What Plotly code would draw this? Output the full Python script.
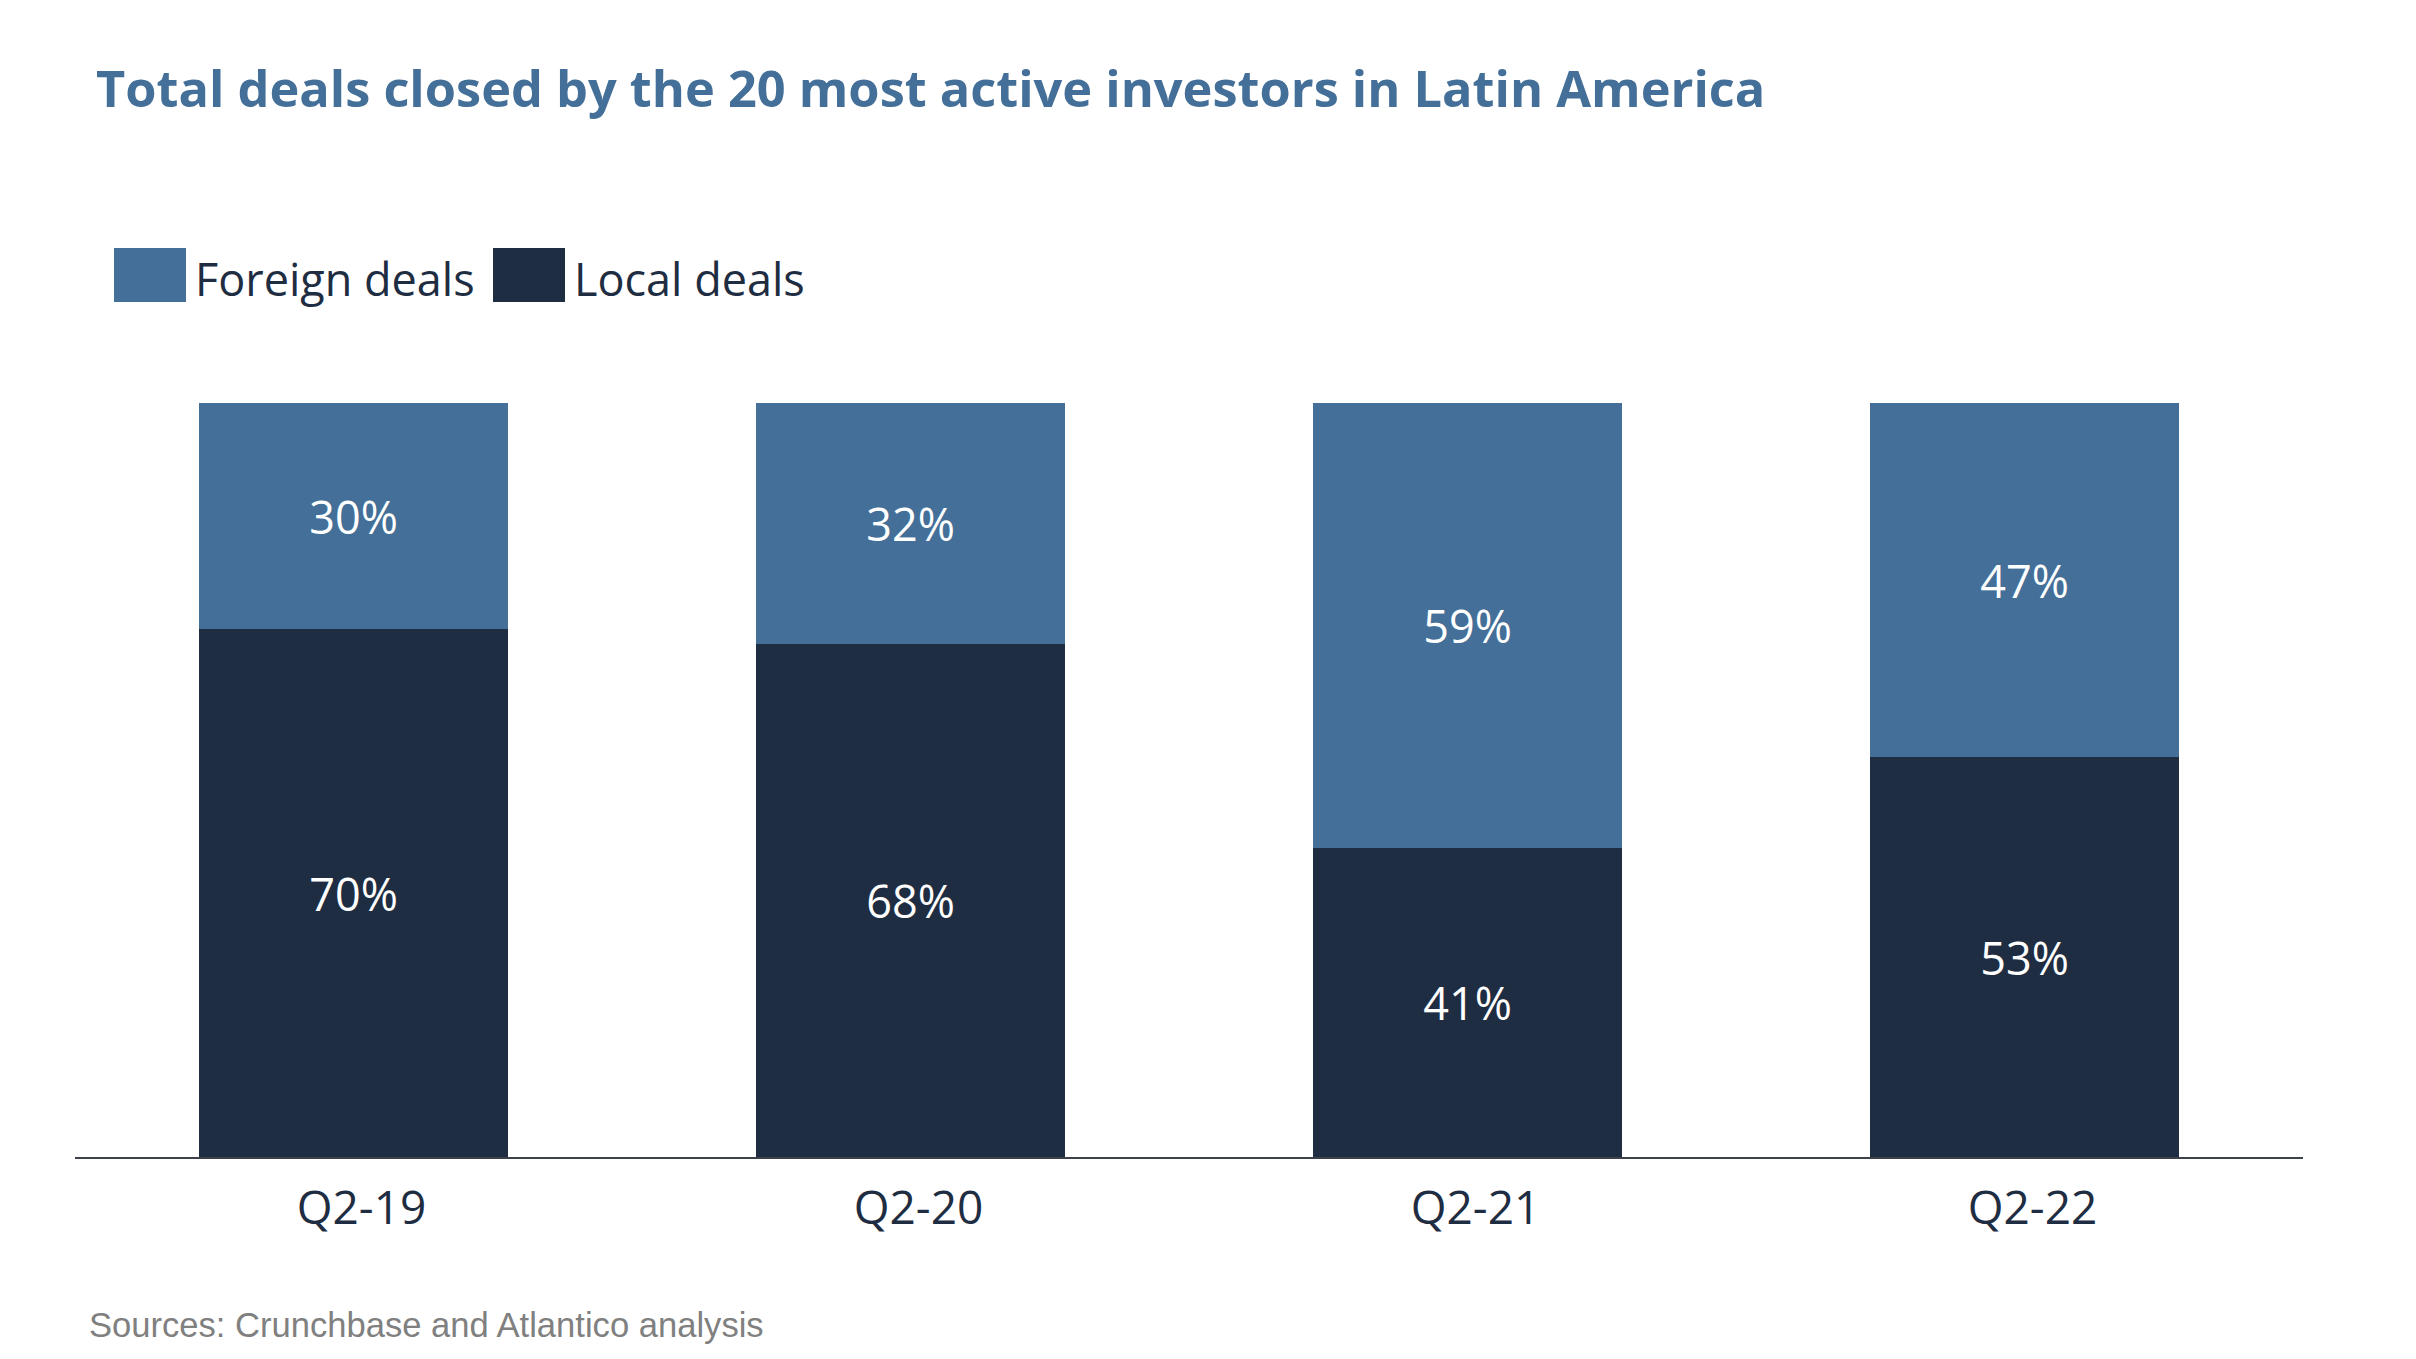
import plotly.graph_objects as go

categories = ["Q2-19", "Q2-20", "Q2-21", "Q2-22"]
local_deals = [70, 68, 41, 53]
foreign_deals = [30, 32, 59, 47]
series_names = ["Foreign deals", "Local deals"]

W, H = 2416, 1359
L, R, T, B = 75, 113, 403, 202
PW, PH = W - L - R, H - T - B

FOREIGN = "#436f98"
LOCAL = "#1f2d42"
TEXT_DARK = "#1f2d42"


def px(x):
    return (x - L) / PW


def py(y):
    return (H - B - y) / PH


fig = go.Figure()
fig.add_trace(go.Bar(
    x=categories, y=local_deals, name=series_names[1], marker_color=LOCAL,
    marker_line_width=0,
    text=[f"{v}%" for v in local_deals], textposition="inside",
    insidetextanchor="middle",
    textfont=dict(family="Open Sans", size=45, color="white"),
))
fig.add_trace(go.Bar(
    x=categories, y=foreign_deals, name=series_names[0], marker_color=FOREIGN,
    marker_line_width=0,
    text=[f"{v}%" for v in foreign_deals], textposition="inside",
    insidetextanchor="middle",
    textfont=dict(family="Open Sans", size=45, color="white"),
))

shapes = []
annotations = []
# Legend (manual, large swatches)
legend_items = [(series_names[0], FOREIGN, 114, 186, 193), (series_names[1], LOCAL, 493, 565, 572)]
for name, col, x0, x1, tx in legend_items:
    shapes.append(dict(type="rect", xref="paper", yref="paper",
                       x0=px(x0), x1=px(x1), y0=py(302), y1=py(248),
                       fillcolor=col, line_width=0))
    annotations.append(dict(text=name, xref="paper", yref="paper", x=px(tx), y=py(279),
                            xanchor="left", yanchor="middle", showarrow=False,
                            font=dict(family="Open Sans", size=45, color=TEXT_DARK)))

annotations.append(dict(text="Total deals closed by the 20 most active investors in Latin America",
                        xref="paper", yref="paper", x=px(94), y=py(87),
                        xanchor="left", yanchor="middle", showarrow=False,
                        font=dict(family="Open Sans", size=50.5, color="#436f98", weight="bold")))
annotations.append(dict(text="Sources: Crunchbase and Atlantico analysis",
                        xref="paper", yref="paper", x=px(87), y=py(1325),
                        xanchor="left", yanchor="middle", showarrow=False,
                        font=dict(family="Liberation Sans", size=34.6, color="#808080")))

fig.update_layout(
    width=W, height=H,
    margin=dict(l=L, r=R, t=T, b=B, autoexpand=False),
    barmode="stack", bargap=0.445,
    plot_bgcolor="white", paper_bgcolor="white",
    showlegend=False,
    shapes=shapes, annotations=annotations,
    uniformtext=dict(mode=False),
    xaxis=dict(range=[-0.5, 3.5], showline=True, linecolor="#3c414b", linewidth=2,
               showgrid=False, zeroline=False, ticks="",
               tickfont=dict(family="Open Sans", size=46, color=TEXT_DARK),
               ticklabelstandoff=10, ticklabelshift=8),
    yaxis=dict(range=[0, 100], visible=False, showgrid=False, zeroline=False),
)

fig.write_html("out.html")
